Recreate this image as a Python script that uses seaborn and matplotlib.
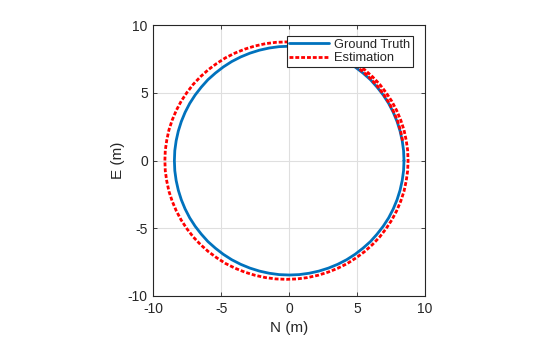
import matplotlib
matplotlib.use("Agg")
import matplotlib.pyplot as plt
import seaborn as sns
import pandas as pd

# Ground truth trajectory (N, E) in metres (every 5 deg)
gt_n = [8.45, 8.42, 8.32, 8.16, 7.94, 7.66, 7.32, 6.92, 6.47, 5.98, 5.43, 4.85,
        4.23, 3.57, 2.89, 2.19, 1.47, 0.74, 0.00,
        -0.74, -1.47, -2.19, -2.89, -3.57, -4.23, -4.85, -5.43, -5.98, -6.47,
        -6.92, -7.32, -7.66, -7.94, -8.16, -8.32, -8.42, -8.45,
        -8.42, -8.32, -8.16, -7.94, -7.66, -7.32, -6.92, -6.47, -5.98, -5.43,
        -4.85, -4.23, -3.57, -2.89, -2.19, -1.47, -0.74, 0.00,
        0.74, 1.47, 2.19, 2.89, 3.57, 4.23, 4.85, 5.43, 5.98, 6.47, 6.92,
        7.32, 7.66, 7.94, 8.16, 8.32, 8.42, 8.45]
gt_e = [0.00, 0.74, 1.47, 2.19, 2.89, 3.57, 4.23, 4.85, 5.43, 5.98, 6.47, 6.92,
        7.32, 7.66, 7.94, 8.16, 8.32, 8.42, 8.45,
        8.42, 8.32, 8.16, 7.94, 7.66, 7.32, 6.92, 6.47, 5.98, 5.43,
        4.85, 4.23, 3.57, 2.89, 2.19, 1.47, 0.74, 0.00,
        -0.74, -1.47, -2.19, -2.89, -3.57, -4.23, -4.85, -5.43, -5.98, -6.47,
        -6.92, -7.32, -7.66, -7.94, -8.16, -8.32, -8.42, -8.45,
        -8.42, -8.32, -8.16, -7.94, -7.66, -7.32, -6.92, -6.47, -5.98, -5.43,
        -4.85, -4.23, -3.57, -2.89, -2.19, -1.47, -0.74, 0.00]

# Estimated trajectory (N, E) in metres (every 5 deg)
est_n = [8.35, 8.20, 7.99, 7.70, 7.36, 6.96, 6.52, 6.02, 5.48, 4.90, 4.29,
         3.64, 2.97, 2.12, 1.35,
         0.58, -0.20, -0.98, -1.75, -2.52, -3.26, -3.98, -4.68, -5.33, -5.95,
         -6.53, -7.06, -7.53, -7.95, -8.31, -8.61, -8.85, -9.01, -9.12, -9.15,
         -9.12, -9.01, -8.85, -8.61, -8.31, -7.95, -7.53, -7.06, -6.53, -5.95,
         -5.33, -4.68, -3.98, -3.26, -2.52, -1.75, -0.98, -0.20,
         0.58, 1.35, 2.12, 2.86, 3.58, 4.28, 4.93, 5.55, 6.13, 6.66, 7.13,
         7.55, 7.91, 8.21, 8.45, 8.61, 8.72, 8.75,
         8.72, 8.61, 8.45, 8.21, 7.91, 7.55, 7.13, 6.66, 6.13, 5.55, 4.93,
         4.28, 3.58, 2.86]
est_e = [1.47, 2.20, 2.91, 3.59, 4.25, 4.88, 5.47, 6.02, 6.53, 7.00, 7.43,
         7.81, 8.15, 8.47, 8.64,
         8.74, 8.77, 8.74, 8.64, 8.47, 8.24, 7.95, 7.60, 7.18, 6.72,
         6.20, 5.64, 5.03, 4.39, 3.71, 3.00, 2.27, 1.52, 0.76, 0.00,
         -0.76, -1.52, -2.27, -3.00, -3.71, -4.39, -5.03, -5.64, -6.20, -6.72,
         -7.18, -7.60, -7.95, -8.24, -8.47, -8.64, -8.74, -8.77,
         -8.74, -8.64, -8.47, -8.24, -7.95, -7.60, -7.18, -6.72, -6.20, -5.64,
         -5.03, -4.39, -3.71, -3.00, -2.27, -1.52, -0.76, 0.00,
         0.76, 1.52, 2.27, 3.00, 3.71, 4.39, 5.03, 5.64, 6.20, 6.72, 7.18,
         7.60, 7.95, 8.24]

ticks = [-10, -5, 0, 5, 10]
labels = ["Ground Truth", "Estimation"]

sns.set_style("white")
plt.rcParams["font.family"] = ["Liberation Sans", "DejaVu Sans"]

fig = plt.figure(figsize=(5.6, 3.37), dpi=100)
ax = fig.add_axes([0.2738, 0.1217, 0.4852, 0.8033])

gt_df = pd.DataFrame({"N": gt_n, "E": gt_e})
est_df = pd.DataFrame({"N": est_n, "E": est_e})

sns.lineplot(data=gt_df, x="N", y="E", sort=False, estimator=None, ax=ax,
             color="#0072BD", linewidth=2.0, label=labels[0])
sns.lineplot(data=est_df, x="N", y="E", sort=False, estimator=None, ax=ax,
             color="#FF0000", linewidth=2.0, label=labels[1],
             dashes=False)
for ln in ax.lines:
    ln.set_solid_joinstyle("round")
    ln.set_dash_joinstyle("round")
ax.lines[1].set_dashes((1.4, 0.7))

ax.set_xlim(-10, 10)
ax.set_ylim(-10, 10)
ax.set_xticks(ticks)
ax.set_yticks(ticks)
ax.set_xticklabels([str(t) for t in ticks], fontsize=10)
ax.set_yticklabels([str(t) for t in ticks], fontsize=10)
ax.set_xlabel("N (m)", fontsize=11, labelpad=4)
ax.set_ylabel("E (m)", fontsize=11, labelpad=2)
ax.grid(True, color="#dfdfdf", linewidth=0.8)
ax.set_axisbelow(True)
ax.tick_params(direction="in", length=3, width=0.6, top=True, right=True,
               bottom=True, left=True, colors="#262626", pad=4)
for s in ax.spines.values():
    s.set_color("#262626")
    s.set_linewidth(0.8)

leg = ax.legend(loc="upper right", bbox_to_anchor=(0.956, 0.96),
                borderaxespad=0, fontsize=9.3, frameon=True, fancybox=False,
                edgecolor="#262626", framealpha=1, handlelength=3.1,
                borderpad=0.2, labelspacing=0.1, handletextpad=0.4)
leg.get_frame().set_linewidth(0.8)

fig.savefig("out.png", dpi=100)
